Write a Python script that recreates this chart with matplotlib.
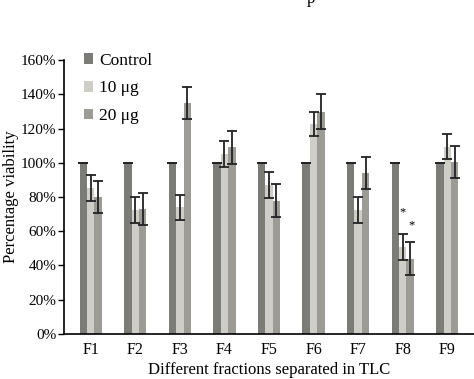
import numpy as np
import matplotlib.pyplot as plt

plt.rcParams['font.family'] = ['Liberation Serif', 'DejaVu Serif']

fractions = ['F1', 'F2', 'F3', 'F4', 'F5', 'F6', 'F7', 'F8', 'F9']
control = [100, 100, 100, 100, 100, 100, 100, 100, 100]
dose10 = [85.5, 72.5, 74, 105, 87, 123, 72.5, 51, 109.5]
dose10_err = [7.5, 7.5, 7.5, 7.5, 7.5, 7, 7.5, 7.5, 7.5]
dose20 = [80, 73, 135, 109, 78, 130, 94, 44, 100.5]
dose20_err = [9.5, 9.5, 9.5, 9.5, 9.5, 10, 9.5, 9.5, 9.5]
labels = ['Control', '10 μg', '20 μg']

x = np.arange(len(fractions))
w = 0.167

fig = plt.figure(figsize=(4.74, 3.79), dpi=100)
ax = fig.add_axes([0.135, 0.119, 0.865, 0.722])

err_kw = dict(ecolor='#222222', elinewidth=1.3, capsize=3.5, capthick=1.3)
ax.bar(x - w, control, w, color='#7b7b77', yerr=[0] * 9, error_kw=err_kw, label=labels[0])
ax.bar(x, dose10, w, color='#cecdc8', yerr=dose10_err, error_kw=err_kw, label=labels[1])
ax.bar(x + w, dose20, w, color='#9c9b96', yerr=dose20_err, error_kw=err_kw, label=labels[2])

# significance marks on F8
ax.text(7.0, 71, '*', ha='center', va='center', fontsize=9)
ax.text(7.2, 63.5, '*', ha='center', va='center', fontsize=9)

ax.set_xlim(-0.6, 8.6)
ax.set_ylim(0, 160)
ax.set_yticks(np.arange(0, 161, 20))
ax.set_yticklabels([f'{v}%' for v in range(0, 161, 20)], fontsize=11)
ax.set_xticks(x)
ax.set_xticklabels(fractions, fontsize=11.5)
ax.tick_params(axis='x', length=0, pad=6)
ax.tick_params(axis='y', length=4, direction='out', width=1, pad=1.5)
for s in ['top', 'right']:
    ax.spines[s].set_visible(False)
ax.spines['left'].set_linewidth(1.2)
ax.spines['bottom'].set_linewidth(1.2)

ax.set_ylabel('Percentage viability', fontsize=12, labelpad=1)
ax.set_xlabel('Different fractions separated in TLC', fontsize=12, labelpad=3)

ax.legend(loc='upper left', bbox_to_anchor=(0.01, 1.085), frameon=False, fontsize=12.5,
          handlelength=0.55, handleheight=0.55, handletextpad=0.35, labelspacing=0.68)

fig.text(0.655, 0.993, 'p', ha='center', va='baseline', fontsize=12)

fig.savefig('out.png', dpi=100)
